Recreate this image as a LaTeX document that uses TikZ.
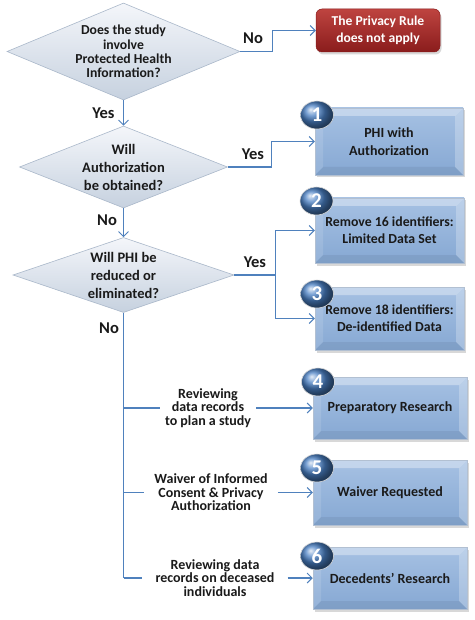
\documentclass[tikz,border=0pt]{standalone}
\usepackage{fontspec}
\setmainfont{Carlito}
\usetikzlibrary{shapes.geometric,arrows.meta,shadows}
\definecolor{lineblue}{HTML}{4F81BD}
\definecolor{boxtop}{HTML}{A6C1E3}
\definecolor{boxbot}{HTML}{86A8D3}
\definecolor{boxedge}{HTML}{B2C0D2}
\definecolor{diaTop}{HTML}{F4F6FA}
\definecolor{diaBot}{HTML}{C6D1DF}
\definecolor{diaEdge}{HTML}{AAB8CA}
\definecolor{redtop}{HTML}{BE4440}
\definecolor{redbot}{HTML}{8A1C1C}
\definecolor{badgeCol}{HTML}{4A80C4}
\definecolor{textdark}{HTML}{1A1A1A}
\begin{document}
\begin{tikzpicture}[x=1pt,y=-1pt,
  line/.style={draw=lineblue, line width=1.1pt},
  conn/.style={line, -{Straight Barb[length=5pt,width=10pt,line width=0.9pt]}},
  decision/.style={diamond, inner sep=0pt, draw=diaEdge, line width=0.6pt,
    top color=diaTop, bottom color=diaBot},
  dtext/.style={align=center, text=textdark, font=\bfseries\fontsize{14.5}{18}\selectfont},
  bevel/.style={path picture={
    \fill[white,opacity=0.35] (path picture bounding box.north west) -- (path picture bounding box.north east)
      -- ([shift={(-8pt,-8pt)}]path picture bounding box.north east) -- ([shift={(8pt,-8pt)}]path picture bounding box.north west) -- cycle;
    \fill[white,opacity=0.25] (path picture bounding box.north east) -- (path picture bounding box.south east)
      -- ([shift={(-8pt,8pt)}]path picture bounding box.south east) -- ([shift={(-8pt,-8pt)}]path picture bounding box.north east) -- cycle;
    \fill[white,opacity=0.12] (path picture bounding box.north west) -- (path picture bounding box.south west)
      -- ([shift={(8pt,8pt)}]path picture bounding box.south west) -- ([shift={(8pt,-8pt)}]path picture bounding box.north west) -- cycle;
    \fill[black,opacity=0.06] (path picture bounding box.south west) -- (path picture bounding box.south east)
      -- ([shift={(-8pt,8pt)}]path picture bounding box.south east) -- ([shift={(8pt,8pt)}]path picture bounding box.south west) -- cycle;
  }},
  result/.style={rectangle, draw=boxedge, line width=0.5pt, top color=boxtop, bottom color=boxbot,
    bevel, drop shadow={opacity=0.3, shadow xshift=1.5pt, shadow yshift=-2.5pt},
    align=center, text=textdark, font=\bfseries\fontsize{14}{18}\selectfont},
  redbox/.style={rectangle, rounded corners=6pt, draw=redbot, line width=0.5pt, top color=redtop, bottom color=redbot,
    drop shadow={opacity=0.3, shadow xshift=1.5pt, shadow yshift=-2.5pt},
    minimum width=124pt, minimum height=43pt, align=center, text=white,
    font=\bfseries\fontsize{13.6}{17}\selectfont},
  badge/.style={ellipse, minimum width=33pt, minimum height=28pt, inner sep=0pt, draw=white!70!gray,
    line width=0.6pt, ball color=badgeCol, text=white, font=\bfseries\fontsize{21}{21}\selectfont},
  yn/.style={text=textdark, font=\bfseries\fontsize{16.5}{17}\selectfont, inner sep=0pt},
  side/.style={align=center, text=textdark, inner ysep=2pt, font=\bfseries\fontsize{14}{13.5}\selectfont}
]
\useasboundingbox[fill=white] (0,0) rectangle (474,620);

% decisions
\node[decision, minimum width=233pt, minimum height=97pt] (d1) at (123.5,51.5) {};
\node[dtext, font=\bfseries\fontsize{13.7}{14.2}\selectfont] (d1t) at (d1.center) {Does the study\\involve\\Protected Health\\Information?};
\node[decision, minimum width=208pt, minimum height=82pt] (d2) at (123.5,167) {};
\node[dtext] (d2t) at (d2.center) {Will\\Authorization\\be obtained?};
\node[decision, minimum width=221pt, minimum height=75pt] (d3) at (123.5,275) {};
\node[dtext] (d3t) at (d3.center) {Will PHI be\\reduced or\\eliminated?};

% outcome boxes
\node[redbox] (red) at (378,30.5) {The Privacy Rule\\does not apply};
\node[result, minimum width=148pt, minimum height=67pt] (b1) at (389,141.5) {PHI with\\Authorization};
\node[result, minimum width=149pt, minimum height=65pt, font=\bfseries\fontsize{13.8}{17}\selectfont] (b2) at (389.5,230.5) {Remove 16 identifiers:\\Limited Data Set};
\node[result, minimum width=149pt, minimum height=63pt, font=\bfseries\fontsize{13.8}{17}\selectfont] (b3) at (389.5,318.5) {Remove 18 identifiers:\\De-identified Data};
\node[result, minimum width=154pt, minimum height=62pt] (b4) at (390,408) {Preparatory Research};
\node[result, minimum width=154pt, minimum height=65pt] (b5) at (390,492.5) {Waiver Requested};
\node[result, minimum width=154pt, minimum height=62pt] (b6) at (390,578) {Decedents’ Research};

% badges
\node[badge] (n1) at (317,115) {1};
\node[badge] (n2) at (316.5,201) {2};
\node[badge] (n3) at (317,294) {3};
\node[badge] (n4) at (318,382) {4};
\node[badge] (n5) at (317,468) {5};
\node[badge] (n6) at (317,556) {6};

% yes / no labels
\node[yn] (ly1) at (103.5,113) {Yes};
\node[yn] (ln1) at (253,38) {No};
\node[yn] (ly2) at (253,154) {Yes};
\node[yn] (ln2) at (107,220) {No};
\node[yn] (ly3) at (255,262) {Yes};
\node[yn] (ln3) at (109,328) {No};

% side labels
\node[side, inner xsep=5pt] (l4) at (208,408) {Reviewing\\data records\\to plan a study};
\node[side, inner xsep=10pt] (l5) at (211,492.5) {Waiver of Informed\\Consent \& Privacy\\Authorization};
\node[side, inner xsep=13pt] (l6) at (215,578) {Reviewing data\\records on deceased\\individuals};

% connectors
\draw[conn] (d1.east) -- ++(32,0) |- (red.west);
\draw[conn] (d1.south) -- (d2.north);
\draw[conn] (d2.east) -- ++(44,0) |- (b1.west);
\draw[conn] (d2.south) -- (d3.north);
\draw[conn] (d3.east) -- ++(41,0) |- (b2.west);
\draw[conn] (d3.east) -- ++(41,0) |- (b3.west);
\draw[line] (d3.south) -- (d3.south |- l6.west);
\draw[line] (d3.south |- l4.west) -- (l4.west);
\draw[conn] (l4.east) -- (b4.west);
\draw[line] (d3.south |- l5.west) -- (l5.west);
\draw[conn] (l5.east) -- (b5.west);
\draw[line] (d3.south |- l6.west) -- (l6.west);
\draw[conn] (l6.east) -- (b6.west);
\end{tikzpicture}
\end{document}
